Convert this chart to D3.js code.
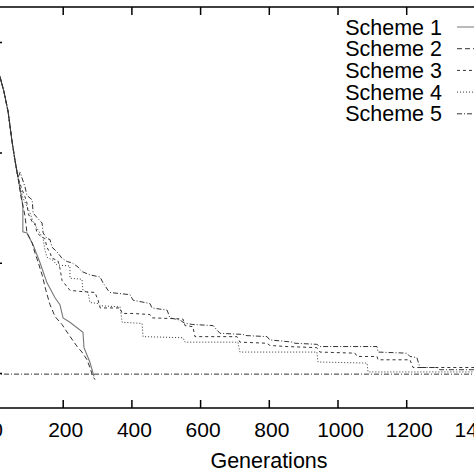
<!DOCTYPE html>
<html>
<head>
<meta charset="utf-8">
<script src="https://cdn.jsdelivr.net/npm/d3@7"></script>
<style>
  html, body { margin: 0; padding: 0; background: #fff; }
  svg { display: block; font-family: "Liberation Sans", Arial, sans-serif; }
</style>
</head>
<body>
<div id="chart"></div>
<script>
// generations / best value pairs
const startGen = [0, 17, 29, 41, 52, 61, 70]
const startVal = [3.82, 3.69, 3.55, 3.37, 3.11, 2.93, 2.77]

const scheme1Gen = [79, 84, 84, 96, 114, 134, 154, 178, 192, 201, 221, 259, 262, 279, 291]
const scheme1Val = [2.61, 2.52, 2.28, 2.27, 2.16, 2.00, 1.82, 1.68, 1.62, 1.50, 1.46, 1.37, 1.23, 1.10, 0.97]

const scheme2Gen = [79, 90, 96, 111, 119, 128, 140, 151, 163, 178, 198, 215, 242, 256, 271, 279, 288, 294]
const scheme2Val = [2.59, 2.43, 2.27, 2.18, 2.09, 2.01, 1.89, 1.75, 1.62, 1.51, 1.44, 1.36, 1.24, 1.19, 1.12, 1.05, 0.97, 0.94]

const scheme3Gen = [82, 90, 96, 99, 111, 119, 125, 140, 148, 154, 163, 169, 186, 192, 198, 221, 250, 294, 303, 309, 367, 373, 405, 454, 460, 550, 556, 579, 585, 707, 716, 795, 803, 853, 940, 949, 1051, 1057, 1115, 1118, 1211, 1220, 1600]
const scheme3Val = [2.66, 2.60, 2.54, 2.45, 2.37, 2.36, 2.27, 2.23, 2.22, 2.14, 2.09, 2.04, 2.02, 1.95, 1.84, 1.75, 1.74, 1.73, 1.66, 1.59, 1.59, 1.54, 1.54, 1.53, 1.50, 1.49, 1.43, 1.42, 1.33, 1.33, 1.28, 1.27, 1.25, 1.24, 1.23, 1.19, 1.18, 1.15, 1.15, 1.12, 1.12, 1.05, 1.05]

const scheme4Gen = [76, 84, 105, 114, 143, 148, 154, 172, 183, 221, 221, 256, 259, 274, 279, 303, 309, 367, 373, 431, 434, 550, 556, 710, 716, 940, 943, 1086, 1089, 1600]
const scheme4Val = [2.69, 2.59, 2.45, 2.37, 2.22, 2.12, 2.05, 2.02, 1.98, 1.97, 1.86, 1.85, 1.75, 1.73, 1.64, 1.63, 1.61, 1.60, 1.46, 1.45, 1.33, 1.32, 1.28, 1.28, 1.19, 1.19, 1.10, 1.09, 1.01, 1.01]

const scheme5Gen = [76, 90, 96, 111, 114, 125, 140, 143, 154, 163, 169, 183, 198, 213, 227, 245, 256, 279, 309, 317, 332, 338, 396, 405, 454, 460, 504, 512, 541, 556, 579, 638, 649, 658, 725, 731, 795, 803, 870, 876, 940, 949, 1115, 1118, 1202, 1211, 1231, 1240, 1290, 1298, 1600]
const scheme5Val = [2.82, 2.69, 2.61, 2.57, 2.45, 2.41, 2.36, 2.27, 2.22, 2.21, 2.14, 2.10, 2.04, 2.01, 2.00, 1.96, 1.92, 1.89, 1.87, 1.82, 1.75, 1.73, 1.71, 1.66, 1.63, 1.59, 1.57, 1.50, 1.48, 1.45, 1.44, 1.43, 1.39, 1.36, 1.35, 1.34, 1.33, 1.30, 1.28, 1.27, 1.26, 1.24, 1.24, 1.19, 1.18, 1.15, 1.14, 1.05, 1.05, 1.03, 1.03]

const optimumGen = [0, 1600]
const optimumVal = [0.99, 0.99]

const schemeNames = ["Scheme 1", "Scheme 2", "Scheme 3", "Scheme 4", "Scheme 5"]
const xTicks = [0, 200, 400, 600, 800, 1000, 1200, 1400, 1600]
const yTicks = [1, 2, 3, 4]

const W = 474, H = 474

const pairs = (g, v) => g.map((d, i) => [d, v[i]])
const withStart = (g, v) => pairs(startGen, startVal).concat(pairs(g, v))

const series = [
  { name: schemeNames[0], pts: withStart(scheme1Gen, scheme1Val), dash: null, color: "#777", w: 1.1 },
  { name: schemeNames[1], pts: withStart(scheme2Gen, scheme2Val), dash: "5,3", color: "#333", w: 1 },
  { name: schemeNames[2], pts: withStart(scheme3Gen, scheme3Val), dash: "3,3", color: "#333", w: 1 },
  { name: schemeNames[3], pts: withStart(scheme4Gen, scheme4Val), dash: "1,2", color: "#333", w: 1 },
  { name: schemeNames[4], pts: withStart(scheme5Gen, scheme5Val), dash: "5,2,1,2", color: "#333", w: 1 }
]

const svg = d3.select("#chart").append("svg")
  .attr("width", W)
  .attr("height", H)

const x = d3.scaleLinear().domain([0, 1600]).range([-6, 543.6])
const y = d3.scaleLinear().domain([0.683, 4.318]).range([408, 7])

svg.append("clipPath").attr("id", "plot")
  .append("rect")
    .attr("x", x(0)).attr("y", y(4.318))
    .attr("width", x(1600) - x(0)).attr("height", y(0.683) - y(4.318))

const line = d3.line().x(d => x(d[0])).y(d => y(d[1]))

const g = svg.append("g").attr("clip-path", "url(#plot)")

// optimum level
g.append("path")
  .attr("d", line(pairs(optimumGen, optimumVal)))
  .attr("fill", "none")
  .attr("stroke", "#333")
  .attr("stroke-width", 1)
  .attr("stroke-dasharray", "5,2,1,2")

g.selectAll(".scheme")
  .data(series)
  .enter().append("path")
    .attr("class", "scheme")
    .attr("d", d => line(d.pts))
    .attr("fill", "none")
    .attr("stroke", d => d.color)
    .attr("stroke-width", d => d.w)
    .attr("stroke-dasharray", d => d.dash)

// frame
svg.append("rect")
  .attr("x", x(0)).attr("y", y(4.318))
  .attr("width", x(1600) - x(0)).attr("height", y(0.683) - y(4.318))
  .attr("fill", "none")
  .attr("stroke", "#000")
  .attr("stroke-width", 1.5)

const styleAxis = a => {
  a.select(".domain").remove()
  a.selectAll(".tick line").attr("stroke", "#000").attr("stroke-width", 1.5)
  a.selectAll(".tick text").attr("fill", "#000").style("font-size", "21px")
}

svg.append("g")
  .attr("transform", `translate(0,${y(0.683)})`)
  .call(d3.axisBottom(x).tickValues(xTicks).tickFormat(d3.format("d"))
    .tickSize(-8).tickSizeOuter(0).tickPadding(14))
  .call(styleAxis)
  .selectAll(".tick text").attr("dx", 2.5)

svg.append("g")
  .attr("transform", `translate(0,${y(4.318)})`)
  .call(d3.axisTop(x).tickValues(xTicks).tickSize(-8).tickSizeOuter(0).tickFormat(""))
  .call(styleAxis)

// left axis labels fall outside the cropped view
svg.append("g")
  .attr("transform", `translate(${x(0)},0)`)
  .call(d3.axisLeft(y).tickValues(yTicks).tickSize(-8).tickSizeOuter(0).tickFormat(""))
  .call(styleAxis)

svg.append("text")
  .attr("x", 269)
  .attr("y", 468)
  .attr("text-anchor", "middle")
  .style("font-size", "21.5px")
  .text("Generations")

// legend
const legend = svg.append("g")
  .selectAll("g")
  .data(series)
  .enter().append("g")
    .attr("transform", (d, i) => `translate(0,${27 + i * 21.7})`)

legend.append("text")
  .attr("x", 442)
  .attr("dy", "0.35em")
  .attr("text-anchor", "end")
  .style("font-size", "21.5px")
  .text(d => d.name)

legend.append("line")
  .attr("x1", 457).attr("x2", 510)
  .attr("stroke", d => d.color)
  .attr("stroke-width", d => d.w)
  .attr("stroke-dasharray", d => d.dash)
</script>
</body>
</html>
